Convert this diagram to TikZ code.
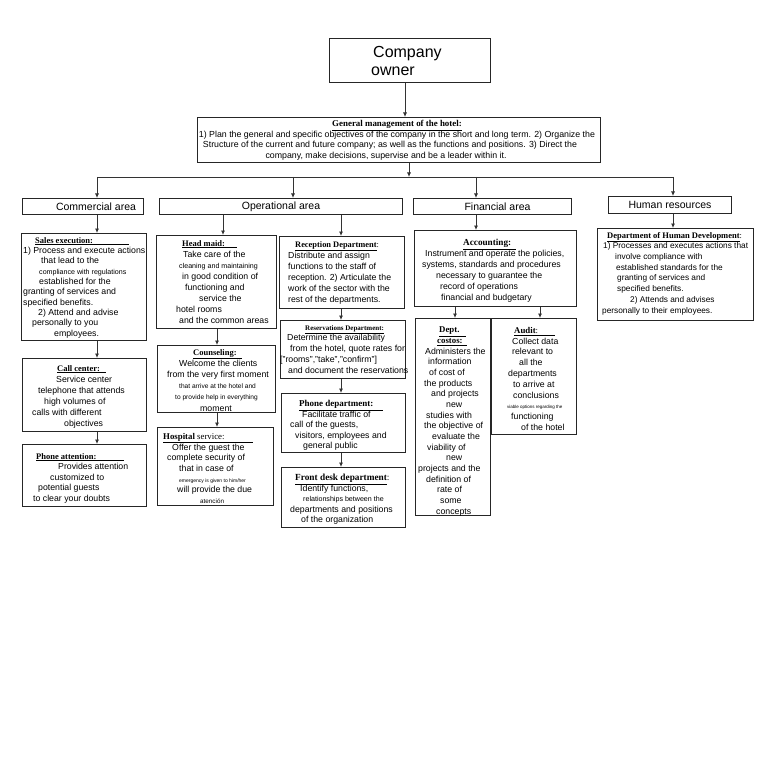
\documentclass[tikz,border=0pt]{standalone}
\usepackage{fontspec}
\setmainfont{Liberation Sans}
\newfontfamily\serifb{Liberation Serif}
\usetikzlibrary{arrows.meta}
\newcommand\sz[1]{\fontsize{#1}{10}\selectfont}
\newcommand\ttl[3]{\underline{\serifb\bfseries\fontsize{#1}{10}\selectfont #2\hspace*{#3}}}
\newcommand\bx[6][]{\node[box,minimum width={#5pt-#3pt},minimum height={#6pt-#4pt},#1] (#2) at (#3,#4) {};}
\begin{document}
\begin{tikzpicture}[x=1pt,y=-1pt,
  box/.style={draw=black!85,line width=1pt,anchor=north west,inner sep=0pt,fill=white},
  tx/.style={anchor=north west,inner sep=0pt,align=left,font=\fontsize{8.75}{10.6}\selectfont},
  area/.style={font=\fontsize{10.5}{12}\selectfont},
  arr/.style={draw=black!80,line width=0.8pt,-{Latex[length=4.5pt,width=4pt]}},
  ln/.style={draw=black!80,line width=0.8pt}]
\useasboundingbox[fill=white] (0,0) rectangle (768,762);

% ---------- boxes ----------
\bx{owner}{329}{38}{490}{82}
\bx{gm}{197}{117}{600}{162}
\node[box,area,minimum width=121pt,minimum height=16pt] (com) at (22,198) {\hspace*{26pt}Commercial area};
\node[box,area,minimum width=243pt,minimum height=16pt] (op) at (159,198) {Operational area};
\node[box,area,minimum width=158pt,minimum height=16pt] (fin) at (413,198) {\hspace*{10pt}Financial area};
\node[box,area,minimum width=123pt,minimum height=17pt] (hr) at (608,196) {Human resources};
\bx{sales}{21}{233}{146}{340}
\bx{call}{22}{358}{146}{431}
\bx{phat}{22}{444}{146}{506}
\bx{maid}{156}{235}{276}{328}
\bx{couns}{157}{345}{275}{412}
\bx{hosp}{157}{427}{273}{505}
\bx{recep}{279}{236}{404}{308}
\bx{resv}{280}{320}{405}{378}
\bx{phdep}{281}{393}{405}{452}
\bx{front}{281}{467}{405}{527}
\bx{acct}{414}{230}{576}{306}
\bx{cost}{415}{318}{490}{515}
\bx{audit}{491}{318}{576}{434}
\bx{hd}{597}{228}{753}{320}

% ---------- texts ----------
\node[tx,font=\fontsize{16}{18}\selectfont] (ownerT) at (371,46) {\hspace*{2pt}Company\\owner};

\node[tx,anchor=north,align=center,font=\fontsize{8.8}{10.7}\selectfont] (gmT) at (397,120) {\ttl{8.9}{General management of the hotel:}{0pt}\\
1) Plan the general and specific objectives of the company in the short and long term. 2) Organize the\\
\hspace*{-14pt}Structure of the current and future company; as well as the functions and positions. 3) Direct the\\
\hspace*{-22pt}company, make decisions, supervise and be a leader within it.};

\node[tx,font=\fontsize{8.75}{10.33}\selectfont] (salesT) at (21,237) {\hspace*{14pt}\ttl{8.5}{Sales execution:}{36pt}\\
\hspace*{2pt}1) Process and execute actions\\
\hspace*{20pt}that lead to the\\
\hspace*{18pt}{\sz{7.1}compliance with regulations}\\
\hspace*{18pt}established for the\\
\hspace*{2pt}granting of services and\\
\hspace*{2pt}specified benefits.\\
\hspace*{17pt}2) Attend and advise\\
\hspace*{11pt}personally to you\\
\hspace*{33pt}employees.};

\node[tx,font=\fontsize{8.75}{11}\selectfont] (callT) at (22,365) {\hspace*{35pt}\ttl{8.5}{Call center:}{6pt}\\
\hspace*{34pt}Service center\\
\hspace*{16pt}telephone that attends\\
\hspace*{22pt}high volumes of\\
\hspace*{10pt}calls with different\\
\hspace*{42pt}objectives};

\node[tx,font=\fontsize{8.75}{10.5}\selectfont] (phatT) at (22,453) {\hspace*{14pt}\ttl{8.5}{Phone attention:}{28pt}\\
\hspace*{36pt}Provides attention\\
\hspace*{28pt}customized to\\
\hspace*{16pt}potential guests\\
\hspace*{11pt}to clear your doubts};

\node[tx,font=\fontsize{8.75}{11}\selectfont] (maidT) at (156,240) {\hspace*{26pt}\ttl{8.5}{Head maid:}{12pt}\\
\hspace*{27pt}Take care of the\\
\hspace*{23pt}{\sz{7.1}cleaning and maintaining}\\
\hspace*{26pt}in good condition of\\
\hspace*{29pt}functioning and\\
\hspace*{43pt}service the\\
\hspace*{20pt}hotel rooms\\
\hspace*{23pt}and the common areas};

\node[tx,font=\fontsize{8.75}{11.2}\selectfont] (counsT) at (157,349) {\hspace*{36pt}\ttl{8.5}{Counseling:}{5pt}\\
\hspace*{22pt}Welcome the clients\\
\hspace*{10pt}from the very first moment\\
\hspace*{22pt}{\sz{6.6}that arrive at the hotel and}\\
\hspace*{18pt}{\sz{6.6}to provide help in everything}\\
\hspace*{43pt}moment};

\node[tx,font=\fontsize{8.75}{10.7}\selectfont] (hospT) at (157,433) {\hspace*{6pt}\ttl{8.8}{Hospital \mdseries service:}{28pt}\\
\hspace*{15pt}Offer the guest the\\
\hspace*{10pt}complete security of\\
\hspace*{22pt}that in case of\\
\hspace*{22pt}{\sz{5}emergency is given to him/her}\\
\hspace*{20pt}will provide the due\\
\hspace*{43pt}{\sz{6.3}atención}};

\node[tx,font=\fontsize{8.75}{11}\selectfont] (recepT) at (280,241) {\hspace*{15pt}\ttl{8.4}{Reception Department}{0pt}{\serifb\fontsize{8.4}{10}\selectfont:}\\
\hspace*{8pt}Distribute and assign\\
\hspace*{8pt}functions to the staff of\\
\hspace*{8pt}reception. 2) Articulate the\\
\hspace*{8pt}work of the sector with the\\
\hspace*{8pt}rest of the departments.};

\node[tx,font=\fontsize{8.75}{10.75}\selectfont] (resvT) at (280,325) {\hspace*{25pt}\ttl{7}{Reservations Department:}{0pt}\\
\hspace*{7pt}Determine the availability\\
\hspace*{10pt}from the hotel, quote rates for\\
\relax["rooms","take","confirm"]\\
\hspace*{8pt}and document the reservations};

\node[tx,font=\fontsize{8.75}{10.25}\selectfont] (phdepT) at (281,400) {\hspace*{18pt}\ttl{9}{Phone department:}{10pt}\\
\hspace*{21pt}Facilitate traffic of\\
\hspace*{9pt}call of the guests,\\
\hspace*{14pt}visitors, employees and\\
\hspace*{22pt}general public};

\node[tx,font=\fontsize{8.75}{10.5}\selectfont] (frontT) at (281,474) {\hspace*{14pt}\ttl{9.3}{Front desk department}{0pt}{\serifb\fontsize{9.3}{10}\selectfont:}\\
\hspace*{19pt}Identify functions,\\
\hspace*{22pt}{\sz{7.1}relationships between the}\\
\hspace*{9pt}departments and positions\\
\hspace*{20pt}of the organization};

\node[tx,font=\fontsize{8.75}{11}\selectfont] (acctT) at (414,239) {\hspace*{49pt}\ttl{9.2}{Accounting:}{5pt}\\
\hspace*{11pt}Instrument and operate the policies,\\
\hspace*{8pt}systems, standards and procedures\\
\hspace*{22pt}necessary to guarantee the\\
\hspace*{26pt}record of operations\\
\hspace*{27pt}financial and budgetary};

\node[tx,font=\fontsize{8.75}{10.65}\selectfont] (costT) at (415,327) {\hspace*{24pt}\ttl{8.8}{Dept.}{7pt}\\
\hspace*{22pt}\ttl{8.8}{costos:}{4pt}\\
\hspace*{10pt}Administers the\\
\hspace*{13pt}information\\
\hspace*{14pt}of cost of\\
\hspace*{9pt}the products\\
\hspace*{16pt}and projects\\
\hspace*{31pt}new\\
\hspace*{11pt}studies with\\
\hspace*{9pt}the objective of\\
\hspace*{17pt}evaluate the\\
\hspace*{12pt}viability of\\
\hspace*{31pt}new\\
\hspace*{3pt}projects and the\\
\hspace*{11pt}definition of\\
\hspace*{22pt}rate of\\
\hspace*{25pt}some\\
\hspace*{21pt}concepts};

\node[tx,font=\fontsize{8.75}{10.8}\selectfont] (auditT) at (491,327) {\hspace*{23pt}\ttl{8.8}{Audit}{0pt}{\serifb\fontsize{8.8}{10}\selectfont:}\hspace*{-3pt}\underline{\hspace*{20pt}}\\
\hspace*{21pt}Collect data\\
\hspace*{21pt}relevant to\\
\hspace*{28pt}all the\\
\hspace*{17pt}departments\\
\hspace*{22pt}to arrive at\\
\hspace*{22pt}conclusions\\
\hspace*{16pt}{\sz{4.5}viable options regarding the}\\
\hspace*{20pt}functioning\\
\hspace*{30pt}of the hotel};

\node[tx,font=\fontsize{8.3}{10.7}\selectfont] (hdT) at (597,232) {\hspace*{10pt}\ttl{8.5}{Department of Human Development}{0pt}{\serifb\fontsize{8.5}{10}\selectfont:}\\
\hspace*{6pt}1) Processes and executes actions that\\
\hspace*{18pt}involve compliance with\\
\hspace*{19pt}established standards for the\\
\hspace*{20pt}granting of services and\\
\hspace*{20pt}specified benefits.\\
\hspace*{33pt}2) Attends and advises\\
\hspace*{5pt}personally to their employees.};

% ---------- connectors ----------
\coordinate (xA) at (405,0);
\coordinate (bus) at (409,177);
\coordinate (bL) at (97,177);
\coordinate (bO) at (293,177);
\coordinate (bF) at (476,177);
\coordinate (bR) at (673,177);
\coordinate (xM1) at (223,0);
\coordinate (xM) at (217,0);
\coordinate (xR) at (341,0);
\coordinate (xC1) at (455,0);
\coordinate (xC2) at (540,0);

\draw[arr] (owner.south -| xA) -- (gm.north -| xA);
\draw[ln] (bL) -- (bR);
\draw[arr] (gm.south -| bus) -- (bus);
\draw[arr] (bL) -- (com.north -| bL);
\draw[arr] (bO) -- (op.north -| bO);
\draw[arr] (bF) -- (fin.north -| bF);
\draw[arr] (bR) -- (hr.north -| bR);

\draw[arr] (com.south -| bL) -- (sales.north -| bL);
\draw[arr] (sales.south -| bL) -- (call.north -| bL);
\draw[arr] (call.south -| bL) -- (phat.north -| bL);

\draw[arr] (op.south -| xM1) -- (maid.north -| xM1);
\draw[arr] (maid.south -| xM) -- (couns.north -| xM);
\draw[arr] (couns.south -| xM) -- (hosp.north -| xM);

\draw[arr] (op.south -| xR) -- (recep.north -| xR);
\draw[arr] (recep.south -| xR) -- (resv.north -| xR);
\draw[arr] (resv.south -| xR) -- (phdep.north -| xR);
\draw[arr] (phdep.south -| xR) -- (front.north -| xR);

\draw[arr] (fin.south -| bF) -- (acct.north -| bF);
\draw[arr] (acct.south -| xC1) -- (cost.north -| xC1);
\draw[arr] (acct.south -| xC2) -- (audit.north -| xC2);

\draw[arr] (hr.south -| bR) -- (hd.north -| bR);
\end{tikzpicture}
\end{document}
